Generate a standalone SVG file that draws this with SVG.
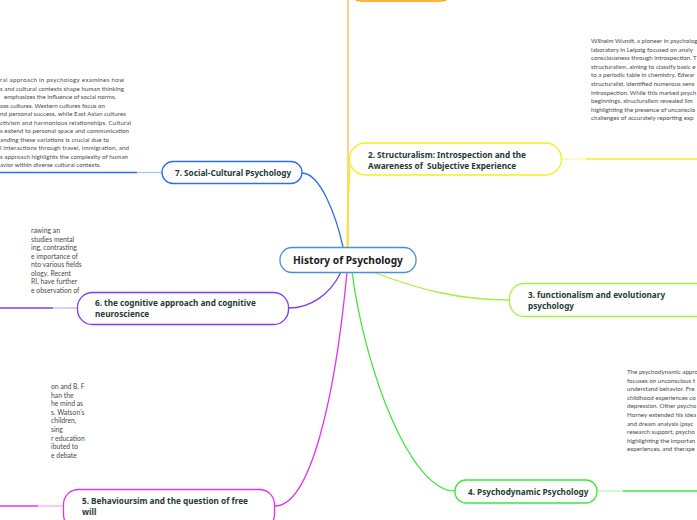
<svg xmlns="http://www.w3.org/2000/svg" width="697" height="520" viewBox="0 0 697 520">
<style>
.node{fill:#fff;stroke-width:1.3}
.lbl{font-family:"Noto Sans","Open Sans",sans-serif;font-weight:bold;font-size:8.2px;fill:#1e3b33}
.ctr{font-family:"Noto Sans","Open Sans",sans-serif;font-weight:bold;font-size:10.2px;fill:#1a1a1a}
.body{font-family:Lato,"Open Sans",sans-serif;font-size:6.8px;fill:#4a4a4a}
.bodyr{font-family:Lato,"Open Sans",sans-serif;font-size:6.2px;fill:#4a4a4a}
.conn{fill:none;stroke-width:1.3}
.fade{opacity:0.4}
</style>
<rect width="697" height="520" fill="#fff"/>
<g id="connectors">
<path class="conn" stroke="#ffb84d" d="M348,247 L348,0"/>
<path class="conn" stroke="#f2ee1c" d="M347,247 C347,205 350,185 350,159"/>
<path class="conn" stroke="#2d6cf5" d="M302,173 C320,173 336,215 343,247"/>
<path class="conn" stroke="#7c3cf0" d="M341,272 C330,295 310,308 289,308"/>
<path class="conn" stroke="#e830e8" d="M347,272 C335,400 310,506 275,506"/>
<path class="conn" stroke="#3ee83e" d="M352,272 C365,370 410,491 455,491"/>
<path class="conn" stroke="#a8f040" d="M373,272 C420,290 460,300 509,300"/>
<path class="conn fade" stroke="#2d6cf5" d="M162,172.5 L137,172.5"/>
<path class="conn" stroke="#2d6cf5" stroke-width="2" d="M137,172.5 L0,172.5"/>
<path class="conn fade" stroke="#f2ee1c" d="M562,159 L586,159"/>
<path class="conn" stroke="#f2ee1c" stroke-width="2" d="M586,159 L697,159"/>
<path class="conn fade" stroke="#7c3cf0" d="M77,308 L53,308"/>
<path class="conn" stroke="#7c3cf0" stroke-width="2" d="M53,308 L0,308"/>
<path class="conn fade" stroke="#e830e8" d="M63,506 L38,506"/>
<path class="conn" stroke="#e830e8" stroke-width="2" d="M38,506 L0,506"/>
<path class="conn fade" stroke="#3ee83e" d="M597,491 L623,491"/>
<path class="conn" stroke="#3ee83e" stroke-width="2" d="M623,491 L697,491"/>
</g>
<g id="node1">
<rect class="node" x="349" y="-25" width="104" height="26" rx="12" stroke="#ff9a00"/>
</g>
<g id="node2">
<rect class="node" x="349.5" y="143" width="212" height="32" rx="16" stroke="#f4ef1c"/>
<text class="lbl" x="368" y="157.5">2. Structuralism: Introspection and the</text>
<text class="lbl" x="368" y="168.5" xml:space="preserve">Awareness of  Subjective Experience</text>
<g class="bodyr">
<text x="591" y="43">Wilhelm Wundt, a pioneer in psycholog</text>
<text x="591" y="51.6">laboratory in Leipzig focused on analy</text>
<text x="591" y="60.2">consciousness through introspection. T</text>
<text x="591" y="68.8">structuralism, aiming to classify basic e</text>
<text x="591" y="77.4">to a periodic table in chemistry. Edwar</text>
<text x="591" y="86">structuralist, identified numerous sens</text>
<text x="591" y="94.6">introspection. While this marked psych</text>
<text x="591" y="103.2">beginnings, structuralism revealed lim</text>
<text x="591" y="111.8">highlighting the presence of unconscio</text>
<text x="591" y="120.4">challenges of accurately reporting exp</text>
</g>
</g>
<g id="node7">
<rect class="node" x="162" y="161.5" width="140" height="22" rx="11" stroke="#2d6cf5"/>
<text class="lbl" x="175" y="176">7. Social-Cultural Psychology</text>
<g class="bodyr">
<text x="0" y="82" textLength="124">ral approach in psychology examines how</text>
<text x="0" y="90.5" textLength="124">s and cultural contexts shape human thinking</text>
<text x="116" y="99" text-anchor="end">emphasizes the influence of social norms,</text>
<text x="0" y="107.5" textLength="105">oss cultures. Western cultures focus on</text>
<text x="0" y="116" textLength="126">nd personal success, while East Asian cultures</text>
<text x="0" y="124.5" textLength="131">ctivism and harmonious relationships. Cultural</text>
<text x="0" y="133" textLength="129">s extend to personal space and communication</text>
<text x="0" y="141.5" textLength="109">anding these variations is crucial due to</text>
<text x="0" y="150" textLength="129">l interactions through travel, immigration, and</text>
<text x="0" y="158.5" textLength="128">s approach highlights the complexity of human</text>
<text x="101" y="167" text-anchor="end">avior within diverse cultural contexts.</text>
</g>
</g>
<g id="center">
<rect class="node" x="280" y="247.5" width="136" height="25" rx="12" stroke="#4a90d6"/>
<text class="ctr" x="348" y="264" text-anchor="middle">History of Psychology</text>
</g>
<g id="node6">
<rect class="node" x="77.5" y="292.5" width="211" height="32" rx="15" stroke="#7c3cf0"/>
<text class="lbl" x="95" y="306">6. the cognitive approach and cognitive</text>
<text class="lbl" x="95" y="317">neuroscience</text>
<g class="body">
<text x="31" y="233">rawing an</text>
<text x="31" y="241.5">studies mental</text>
<text x="31" y="250">ing, contrasting</text>
<text x="31" y="258.5">e importance of</text>
<text x="31" y="267">nto various fields</text>
<text x="31" y="275.5">ology. Recent</text>
<text x="31" y="284">RI, have further</text>
<text x="31" y="292.5">e observation of</text>
</g>
</g>
<g id="node3">
<rect class="node" x="509.5" y="283.5" width="220" height="33" rx="15" stroke="#a8f040"/>
<text class="lbl" x="528" y="298">3. functionalism and evolutionary</text>
<text class="lbl" x="528" y="309">psychology</text>
</g>
<g id="node4">
<rect class="node" x="455" y="480" width="142" height="23" rx="11" stroke="#3ee83e"/>
<text class="lbl" x="468" y="494.5">4. Psychodynamic Psychology</text>
<g class="bodyr">
<text x="627" y="374">The psychodynamic appro</text>
<text x="627" y="382.6">focuses on unconscious t</text>
<text x="627" y="391.2">understand behavior. Fre</text>
<text x="627" y="399.8">childhood experiences co</text>
<text x="627" y="408.4">depression. Other psycho</text>
<text x="627" y="417">Horney extended his idea</text>
<text x="627" y="425.6">and dream analysis (psyc</text>
<text x="627" y="434.2">research support, psycho</text>
<text x="627" y="442.8">highlighting the importan</text>
<text x="627" y="451.4">experiences, and therape</text>
</g>
</g>
<g id="node5">
<rect class="node" x="63.5" y="489.5" width="211" height="40" rx="15" stroke="#e830e8"/>
<text class="lbl" x="82" y="504">5. Behavioursim and the question of free</text>
<text class="lbl" x="82" y="515">will</text>
<g class="body">
<text x="51" y="389">on and B. F</text>
<text x="51" y="397.6">han the</text>
<text x="51" y="406.2">he mind as</text>
<text x="51" y="414.8">s. Watson's</text>
<text x="51" y="423.4">children,</text>
<text x="51" y="432">sing</text>
<text x="51" y="440.6">r education</text>
<text x="51" y="449.2">ibuted to</text>
<text x="51" y="457.8">e debate</text>
</g>
</g>
</svg>
